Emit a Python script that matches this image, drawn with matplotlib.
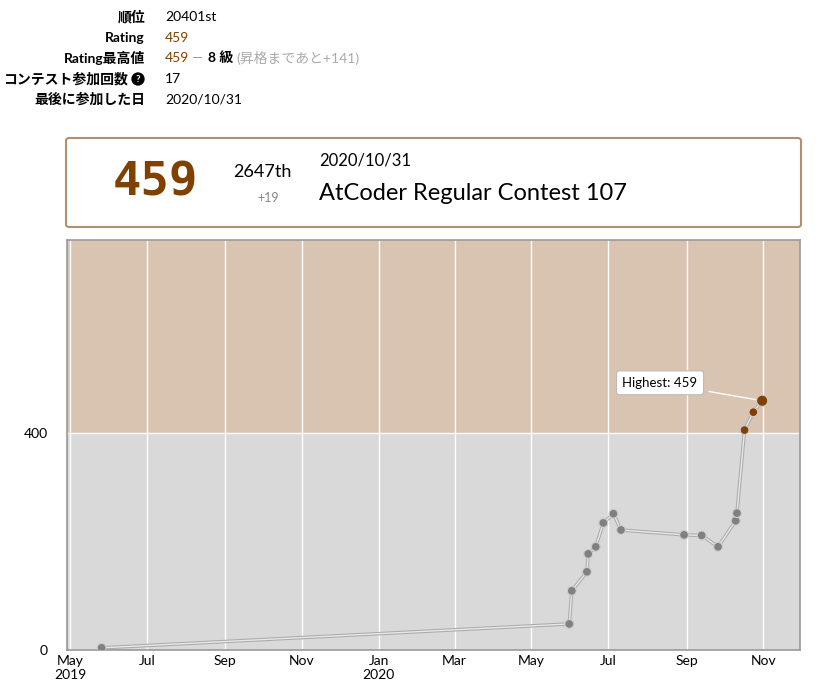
import matplotlib
matplotlib.use('Agg')
import matplotlib.pyplot as plt
import matplotlib.dates as mdates
from matplotlib.patches import FancyBboxPatch
import numpy as np
from datetime import datetime

plt.rcParams['font.family'] = ['Lato', 'Noto Sans CJK JP', 'DejaVu Sans']

# contest history
dates = ['2019-05-26', '2020-05-31', '2020-06-02', '2020-06-14', '2020-06-15', '2020-06-21',
         '2020-06-27', '2020-07-05', '2020-07-11', '2020-08-30', '2020-09-13', '2020-09-26',
         '2020-10-10', '2020-10-11', '2020-10-17', '2020-10-24', '2020-10-31']
ratings = [4, 48, 109, 144, 177, 190, 234, 251, 221, 212, 211, 190, 238, 252, 405, 438, 459]
tick_dates = ['2019-05-01', '2019-07-01', '2019-09-01', '2019-11-01', '2020-01-01', '2020-03-01',
              '2020-05-01', '2020-07-01', '2020-09-01', '2020-11-01']
tick_labels = ['May\n2019', 'Jul', 'Sep', 'Nov', 'Jan\n2020', 'Mar', 'May', 'Jul', 'Sep', 'Nov']

x = mdates.date2num([datetime.strptime(d, '%Y-%m-%d') for d in dates])
xt = mdates.date2num([datetime.strptime(d, '%Y-%m-%d') for d in tick_dates])
brown = '#804000'

fig = plt.figure(figsize=(8.31, 6.92), dpi=100)

# header info
labels = ['順位', 'Rating', 'Rating最高値', 'コンテスト参加回数', '最後に参加した日']
for i, lab in enumerate(labels):
    yy = 1 - (17 + i * 20.5) / 692
    xr = 145 if i != 3 else 128
    fig.text(xr / 831, yy, lab, ha='right', va='center', fontsize=10, fontweight='bold')
fig.text(138 / 831, 1 - 79 / 692, '?', ha='center', va='center', fontsize=7, fontweight='bold',
         color='white', bbox=dict(boxstyle='circle,pad=0.15', fc='black', ec='black'))
fig.text(165 / 831, 1 - 17 / 692, '20401st', va='center', fontsize=10)
fig.text(165 / 831, 1 - 37.5 / 692, '459', va='center', fontsize=10, color=brown)
fig.text(165 / 831, 1 - 58 / 692, '459', va='center', fontsize=10, color=brown)
fig.text(191 / 831, 1 - 58 / 692, '—', va='center', fontsize=10, color='#999999')
fig.text(208 / 831, 1 - 58 / 692, '8 級', va='center', fontsize=10, fontweight='bold')
fig.text(236 / 831, 1 - 58 / 692, '(昇格まであと+141)', va='center', fontsize=10, color='#aaaaaa')
fig.text(165 / 831, 1 - 79 / 692, '17', va='center', fontsize=10)
fig.text(165 / 831, 1 - 100 / 692, '2020/10/31', va='center', fontsize=10)

# info panel
box = FancyBboxPatch((66 / 831, 1 - 227 / 692), 735 / 831, 89 / 692, boxstyle='round,pad=0,rounding_size=0.004',
                     transform=fig.transFigure, facecolor='white', edgecolor='#b0906f', linewidth=1.5)
fig.patches.append(box)
fig.text(155 / 831, 1 - 183 / 692, '459', ha='center', va='center', fontsize=34, fontweight='heavy',
         color=brown, family='DejaVu Sans Mono')
fig.text(262 / 831, 1 - 172 / 692, '2647th', ha='center', va='center', fontsize=13)
fig.text(268 / 831, 1 - 198 / 692, '+19', ha='center', va='center', fontsize=9, color='#888888')
fig.text(319 / 831, 1 - 161 / 692, '2020/10/31', va='center', fontsize=12)
fig.text(319 / 831, 1 - 194 / 692, 'AtCoder Regular Contest 107', va='center', fontsize=17)

ax = fig.add_axes([67 / 831, 42 / 692, 733 / 831, 410 / 692])
x0 = mdates.date2num(datetime(2019, 4, 28, 14))
x1 = mdates.date2num(datetime(2020, 11, 30))
ax.set_xlim(x0, x1)
ax.set_ylim(0, 755)
ax.axhspan(0, 400, color='#d9d9d9', zorder=0)
ax.axhspan(400, 755, color='#d9c3b1', zorder=0)
ax.axhline(400, color='white', lw=1, zorder=1)
for v in xt:
    ax.axvline(v, color='white', lw=1, zorder=1)
ax.plot(x, ratings, color='#aaaaaa', lw=2.5, zorder=2)
ax.plot(x, ratings, color='#e8e8e8', lw=1, zorder=2)
cols = [brown if r >= 400 else '#808080' for r in ratings]
sizes = [40 if i < len(ratings) - 1 else 65 for i in range(len(ratings))]
ax.scatter(x, ratings, c=cols, s=sizes, edgecolors='#cccccc', linewidths=0.8, zorder=3)

# highest tooltip
ax.plot([x[-1], x[-1] - 42], [ratings[-1], 476], color='white', lw=1, zorder=2)
ax.annotate('Highest: 459', xy=(x[-1] - 81, 492), ha='center', va='center', fontsize=9.5, zorder=4,
            bbox=dict(boxstyle='round,pad=0.45,rounding_size=0.2', fc='white', ec='#bbbbbb', lw=0.8))

ax.set_xticks(xt)
ax.set_xticklabels(tick_labels, fontsize=10)
ax.set_yticks([0, 400])
ax.tick_params(length=0, labelsize=10)
ax.tick_params(axis='y', pad=14)
for s in ax.spines.values():
    s.set_color('#999999')
    s.set_linewidth(1.2)

fig.savefig('out.png', dpi=100)
